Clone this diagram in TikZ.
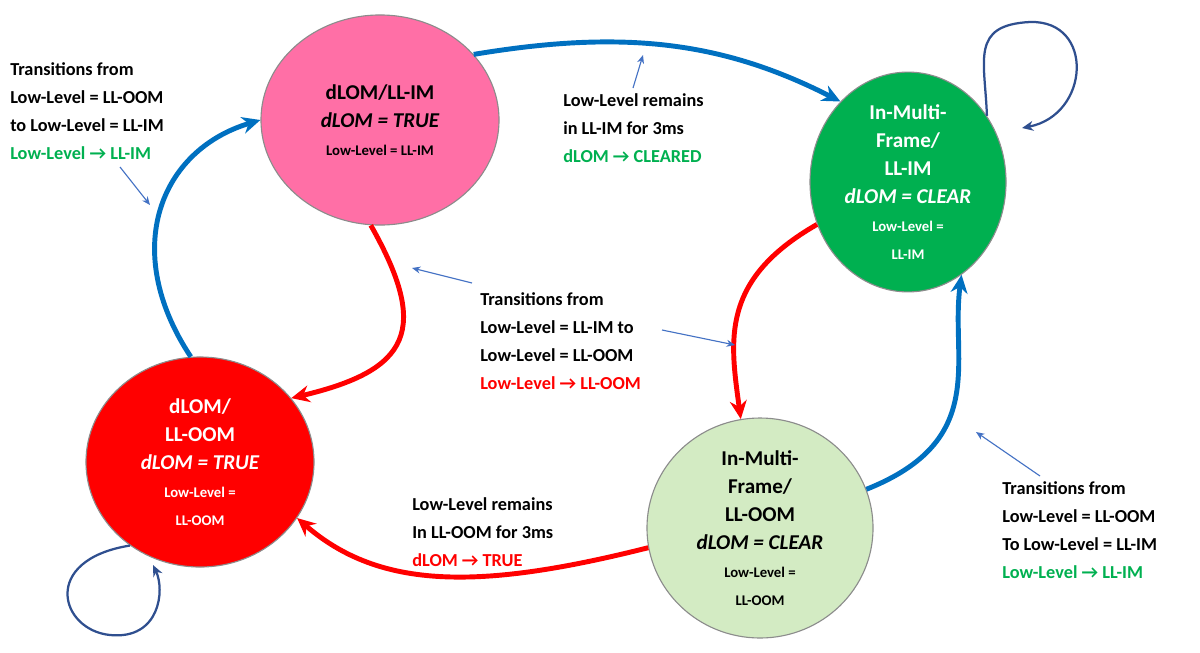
\documentclass[tikz,border=0pt]{standalone}
\usepackage{fontspec}
\setmainfont{Carlito}
\usetikzlibrary{shapes.geometric,arrows.meta}
\definecolor{pinkst}{HTML}{FF6FA6}
\definecolor{greenst}{HTML}{00B050}
\definecolor{redst}{HTML}{FF0000}
\definecolor{lgreenst}{HTML}{D3EBC3}
\definecolor{bluearr}{HTML}{0070C0}
\definecolor{loopc}{HTML}{2F4F8F}
\definecolor{ptr}{HTML}{4472C4}
\tikzset{
  state/.style={ellipse,draw=black!45,line width=0.8pt,align=center,font=\bfseries\fontsize{15}{20}\selectfont,inner sep=0pt},
  blue arc/.style={draw=bluearr,line width=3.5pt,-{Stealth[length=13pt,width=12pt]}},
  red arc/.style={draw=redst,line width=3.5pt,-{Stealth[length=13pt,width=12pt]}},
  self loop/.style={draw=loopc,line width=1.6pt,-{Stealth[length=8pt,width=7pt]}},
  pointer/.style={draw=ptr,line width=0.8pt,-{Stealth[length=6pt,width=5pt]}},
  note/.style={align=left,anchor=north west,font=\bfseries\fontsize{13}{20}\selectfont,inner sep=0pt}
}
\newcommand{\sttitle}[1]{{\fontsize{15}{20}\selectfont #1}}
\newcommand{\stsmall}[1]{{\fontsize{10.5}{16}\selectfont #1}}
\begin{document}
\begin{tikzpicture}[x=0.025cm,y=-0.025cm]
\useasboundingbox (0,0) rectangle (1200,652);
% states
\node[state,fill=pinkst,minimum width=5.95cm,minimum height=5.25cm] (im) at (380,120)
  {\sttitle{dLOM/LL-IM}\\\sttitle{\itshape dLOM = TRUE}\\\stsmall{Low-Level = LL-IM}};
\node[state,fill=greenst,text=white,minimum width=4.9cm,minimum height=5.35cm] (mfim) at (908,182)
  {\sttitle{In-Multi-}\\\sttitle{Frame/}\\\sttitle{LL-IM}\\\sttitle{\itshape dLOM = CLEAR}\\\stsmall{Low-Level =}\\\stsmall{LL-IM}};
\node[state,fill=redst,text=white,minimum width=5.7cm,minimum height=5.25cm] (oom) at (200,462)
  {\sttitle{dLOM/}\\\sttitle{LL-OOM}\\\sttitle{\itshape dLOM = TRUE}\\\stsmall{Low-Level =}\\\stsmall{LL-OOM}};
\node[state,fill=lgreenst,minimum width=5.65cm,minimum height=4.1cm] (mfoom) at (760,528)
  {\sttitle{In-Multi-}\\\sttitle{Frame/}\\\sttitle{LL-OOM}\\\sttitle{\itshape dLOM = CLEAR}\\\stsmall{Low-Level =}\\\stsmall{LL-OOM}};
% transitions
\draw[blue arc] (oom.95) .. controls (120,250) and (160,150) .. (im.180);
\draw[blue arc] (im.35) .. controls (620,30) and (720,40) .. (mfim.130);
\draw[red arc] (im.265) .. controls (430,330) and (410,370) .. (oom.35);
\draw[red arc] (mfim.205) .. controls (720,280) and (730,340) .. (mfoom.100);
\draw[blue arc] (mfoom.20) .. controls (990,440) and (950,360) .. (mfim.300);
\draw[red arc] (mfoom.190) .. controls (480,590) and (380,590) .. (oom.330);
% self loops
\draw[self loop] (mfim.40) .. controls (985,60) and (970,25) .. (1030,22) .. controls (1095,20) and (1090,115) .. (1022,128);
\draw[self loop] (oom.230) .. controls (40,560) and (60,630) .. (110,635) .. controls (160,640) and (165,590) .. (153,565);
% notes
\node[note] (n1) at (10,62) {Transitions from\\Low-Level = LL-OOM\\to Low-Level = LL-IM\\\textcolor{greenst}{Low-Level → LL-IM}};
\node[note] (n2) at (563,93) {Low-Level remains\\in LL-IM for 3ms\\\textcolor{greenst}{dLOM → CLEARED}};
\node[note] (n3) at (480,292) {Transitions from\\Low-Level = LL-IM to\\Low-Level = LL-OOM\\\textcolor{redst}{Low-Level → LL-OOM}};
\node[note] (n4) at (412,497) {Low-Level remains\\In LL-OOM for 3ms\\\textcolor{redst}{dLOM → TRUE}};
\node[note] (n5) at (1002,481) {Transitions from\\Low-Level = LL-OOM\\To Low-Level = LL-IM\\\textcolor{greenst}{Low-Level → LL-IM}};
% pointers
\coordinate (p1) at (150,205); \draw[pointer] (120,167) -- (p1);
\coordinate (p2) at (643,55); \draw[pointer] (633,88) -- (p2);
\coordinate (p3) at (412,268); \draw[pointer] (472,283) -- (p3);
\coordinate (p4) at (735,345); \draw[pointer] (662,330) -- (p4);
\coordinate (p5) at (976,432); \draw[pointer] (1040,476) -- (p5);
\end{tikzpicture}
\end{document}
